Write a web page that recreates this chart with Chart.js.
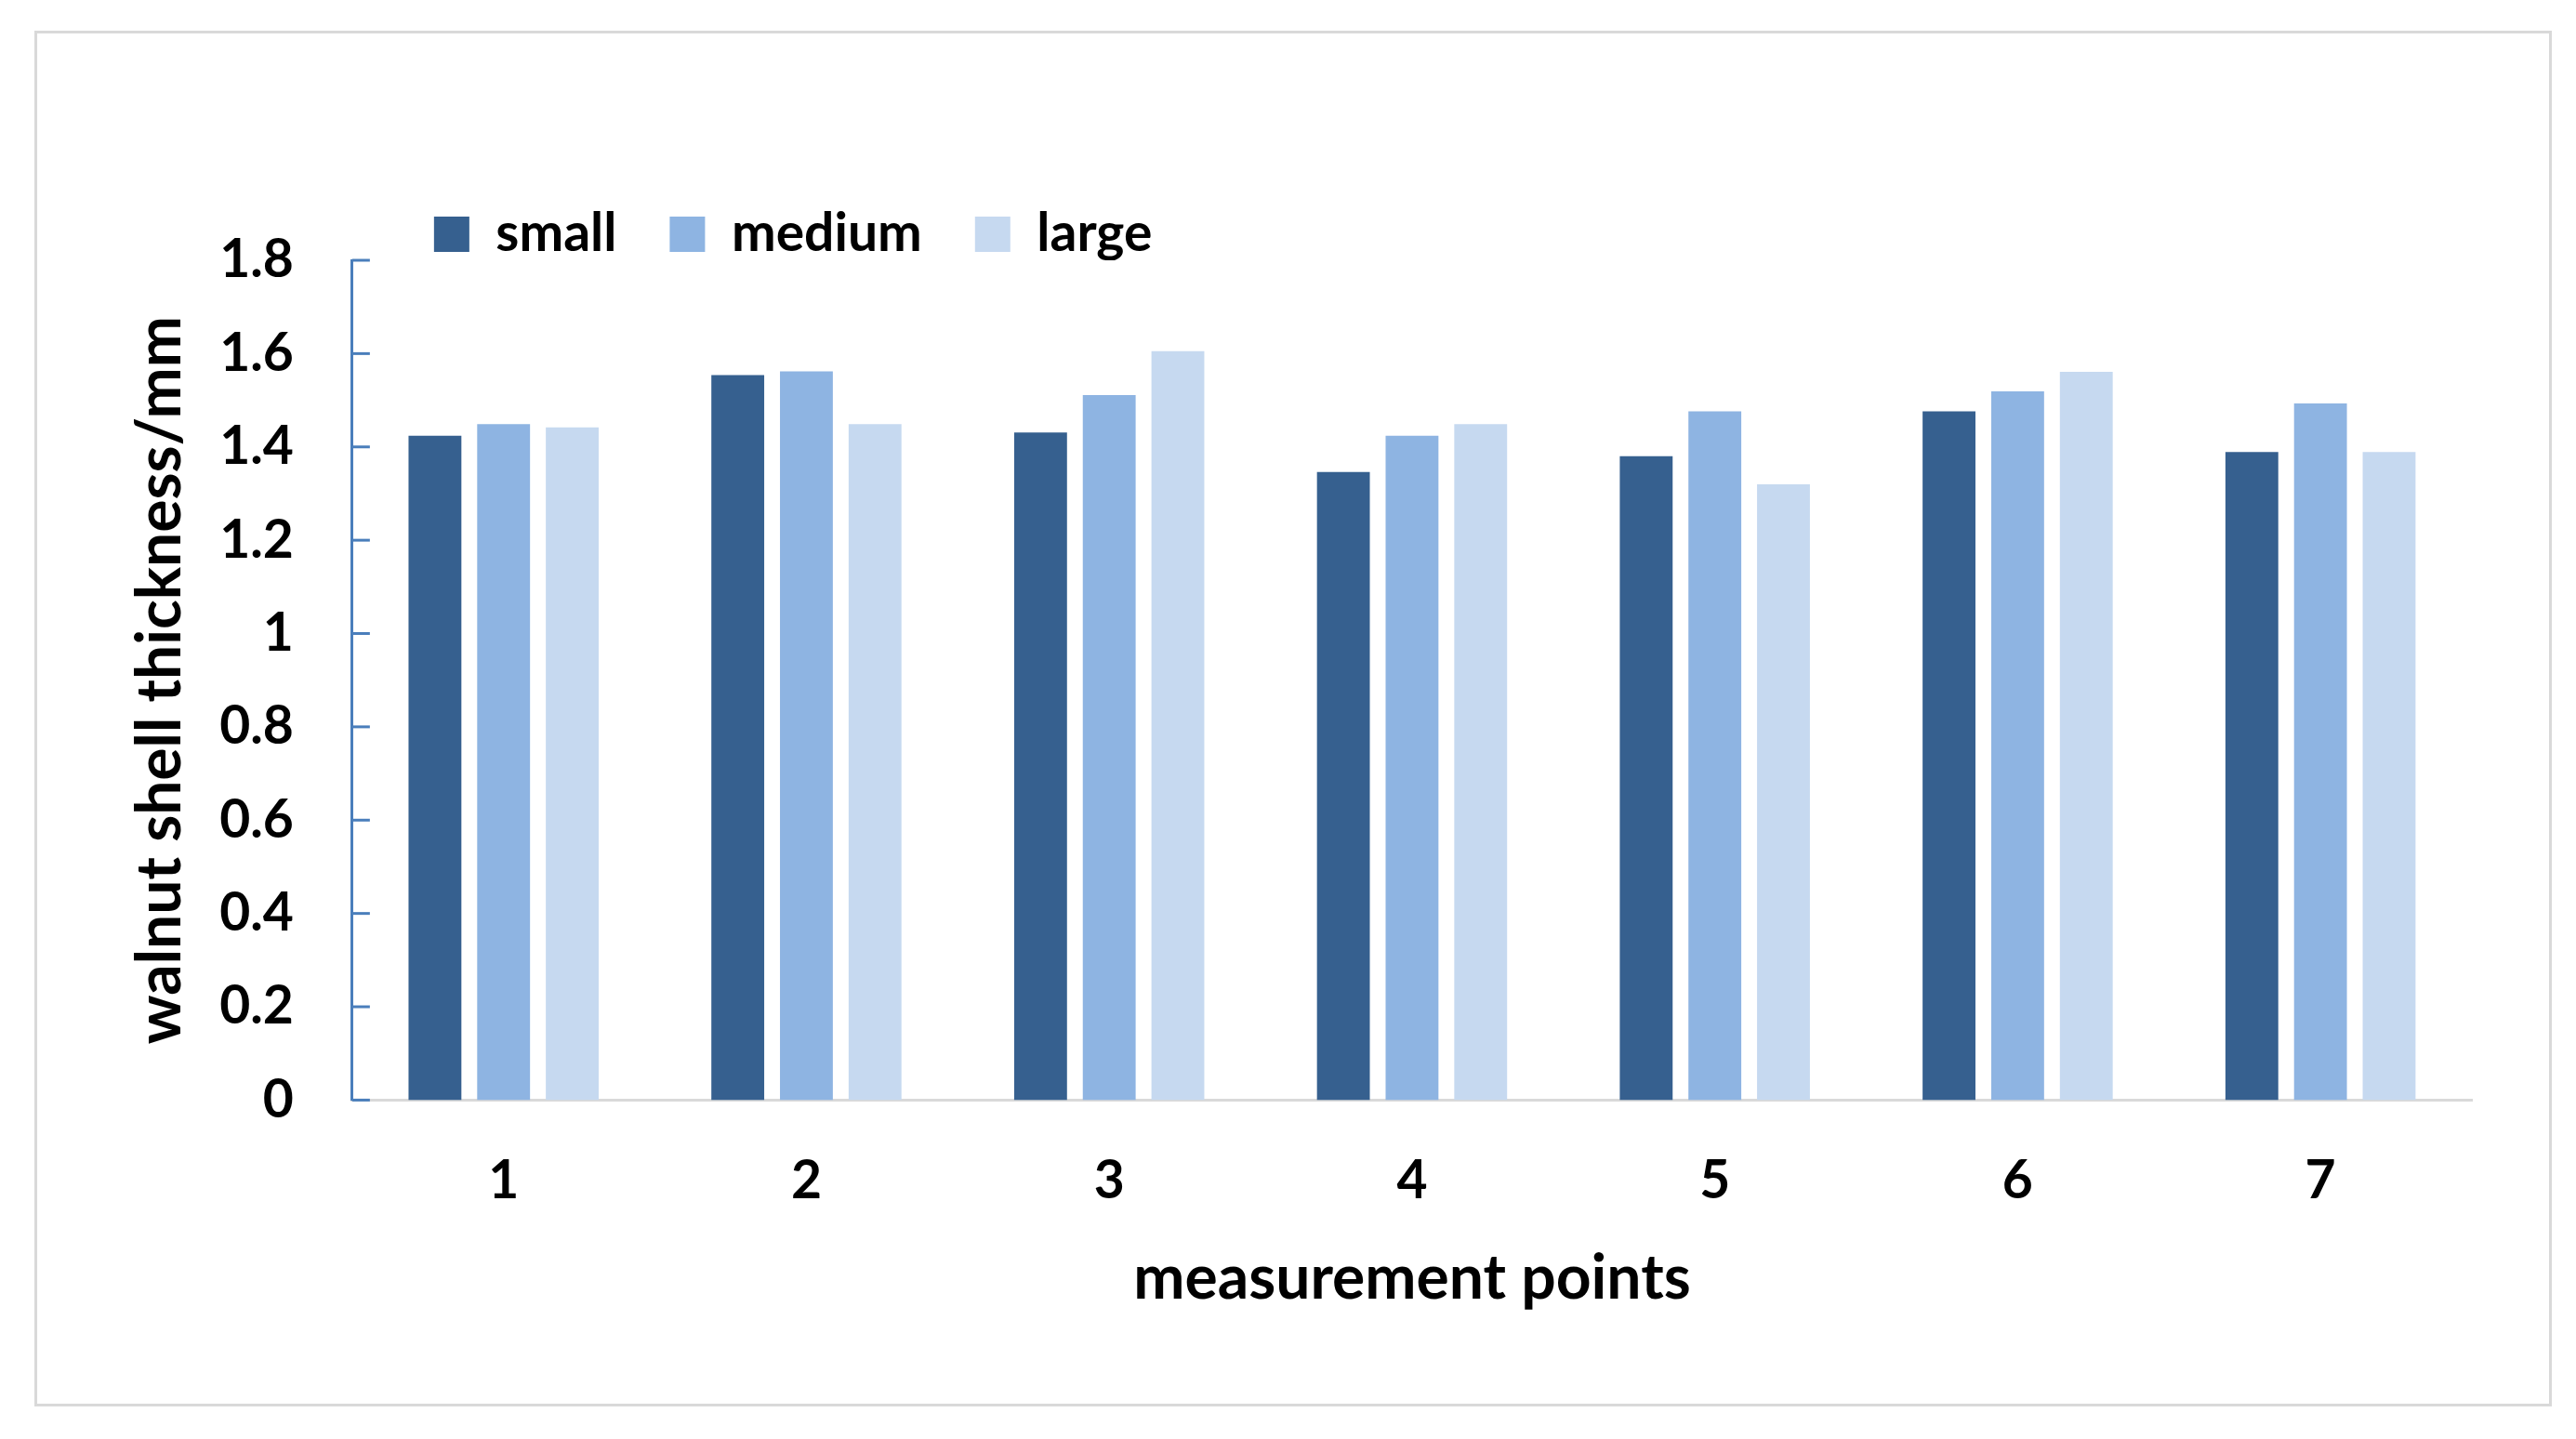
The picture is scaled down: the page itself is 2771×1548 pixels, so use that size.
<!DOCTYPE html>
<html>
<head>
<meta charset="utf-8">
<script src="https://cdn.jsdelivr.net/npm/chart.js@4.4.1/dist/chart.umd.min.js"></script>
<style>
  body { margin: 0; background: #fff; }
  #frame {
    position: absolute; left: 37px; top: 33px; width: 2708px; height: 1480px;
    box-sizing: border-box; border: 3px solid #d9d9d9;
  }
  #wrap { position: absolute; left: 0; top: 0; width: 2771px; height: 1548px; }
</style>
</head>
<body>
<div id="frame"></div>
<div id="wrap"><canvas id="chart-canvas"></canvas></div>
<script>
//////////////////////////////////////////////////
/////       Data                    //////////////
//////////////////////////////////////////////////

var points = ["1", "2", "3", "4", "5", "6", "7"];
var small  = [1.424, 1.554, 1.431, 1.346, 1.380, 1.476, 1.389];
var medium = [1.449, 1.562, 1.511, 1.424, 1.476, 1.519, 1.493];
var large  = [1.442, 1.449, 1.605, 1.449, 1.320, 1.561, 1.389];
var yTicks = [0, 0.2, 0.4, 0.6, 0.8, 1, 1.2, 1.4, 1.6, 1.8];

var AXIS_BLUE = "#4a7ebb";
var FONT = "Lato";

//////////////////////////////////////////////////
/////       Small plugins           //////////////
//////////////////////////////////////////////////

// tick marks on the inner side of the value axis
var insideTicks = {
    id: 'insideTicks',
    afterDatasetsDraw: function (chart) {
        var y = chart.scales.y, ctx = chart.ctx, left = chart.chartArea.left;
        ctx.save();
        ctx.strokeStyle = AXIS_BLUE;
        ctx.lineWidth = 3;
        y.ticks.forEach(function (t) {
            var py = y.getPixelForValue(t.value);
            ctx.beginPath();
            ctx.moveTo(left, py);
            ctx.lineTo(left + 19, py);
            ctx.stroke();
        });
        ctx.restore();
    }
};

// legend sits just above the plot, a bit right of the axis
var legendPlace = {
    id: 'legendPlace',
    afterUpdate: function (chart) {
        var lg = chart.legend, a = chart.chartArea;
        var pad = lg.options.labels.padding;
        lg.left = a.left + 88 - pad;
        lg.top = a.top - 28 - 57 / 2 - pad;
    }
};

//////////////////////////////////////////////////
/////       Chart                   //////////////
//////////////////////////////////////////////////

var ctx = document.getElementById('chart-canvas').getContext('2d');
var myChart = new Chart(ctx, {
    type: 'bar',
    data: {
        labels: points,
        datasets: [
            { label: "small",  data: small,  backgroundColor: "#36608f", borderWidth: 0 },
            { label: "medium", data: medium, backgroundColor: "#8eb4e2", borderWidth: 0 },
            { label: "large",  data: large,  backgroundColor: "#c6d9f0", borderWidth: 0 }
        ]
    },
    options: {
        responsive: true,
        maintainAspectRatio: false,
        animation: false,
        categoryPercentage: 0.68,
        barPercentage: 0.77,
        layout: { padding: { top: 156, right: 112, bottom: 113, left: 100 } },
        plugins: {
            tooltip: { enabled: false },
            legend: {
                position: 'top',
                align: 'start',
                labels: {
                    boxWidth: 38,
                    boxHeight: 38,
                    padding: 57,
                    color: "#000",
                    font: { family: FONT, size: 57, weight: 'bold' }
                }
            }
        },
        scales: {
            x: {
                grid: { display: false, drawTicks: false },
                border: { display: true, color: "#d9d9d9", width: 3 },
                ticks: {
                    padding: 53,
                    color: "#000",
                    font: { family: FONT, size: 57, weight: 'bold' }
                },
                title: {
                    display: true,
                    text: "measurement points",
                    color: "#000",
                    padding: { top: -22, bottom: 20 },
                    font: { family: FONT, size: 66, weight: 'bold' }
                }
            },
            y: {
                min: 0,
                max: 1.8,
                afterBuildTicks: function (scale) {
                    scale.ticks = yTicks.map(function (v) { return { value: v }; });
                },
                grid: { display: false, drawTicks: false },
                border: { display: true, color: AXIS_BLUE, width: 3 },
                ticks: {
                    padding: 63,
                    color: "#000",
                    font: { family: FONT, size: 57, weight: 'bold' },
                    callback: function (v) { return String(Math.round(v * 10) / 10); }
                },
                title: {
                    display: true,
                    text: "walnut shell thickness/mm",
                    color: "#000",
                    padding: { top: 33, bottom: -39 },
                    font: { family: FONT, size: 66, weight: 'bold' }
                }
            }
        }
    },
    plugins: [insideTicks, legendPlace]
});
</script>
</body>
</html>
